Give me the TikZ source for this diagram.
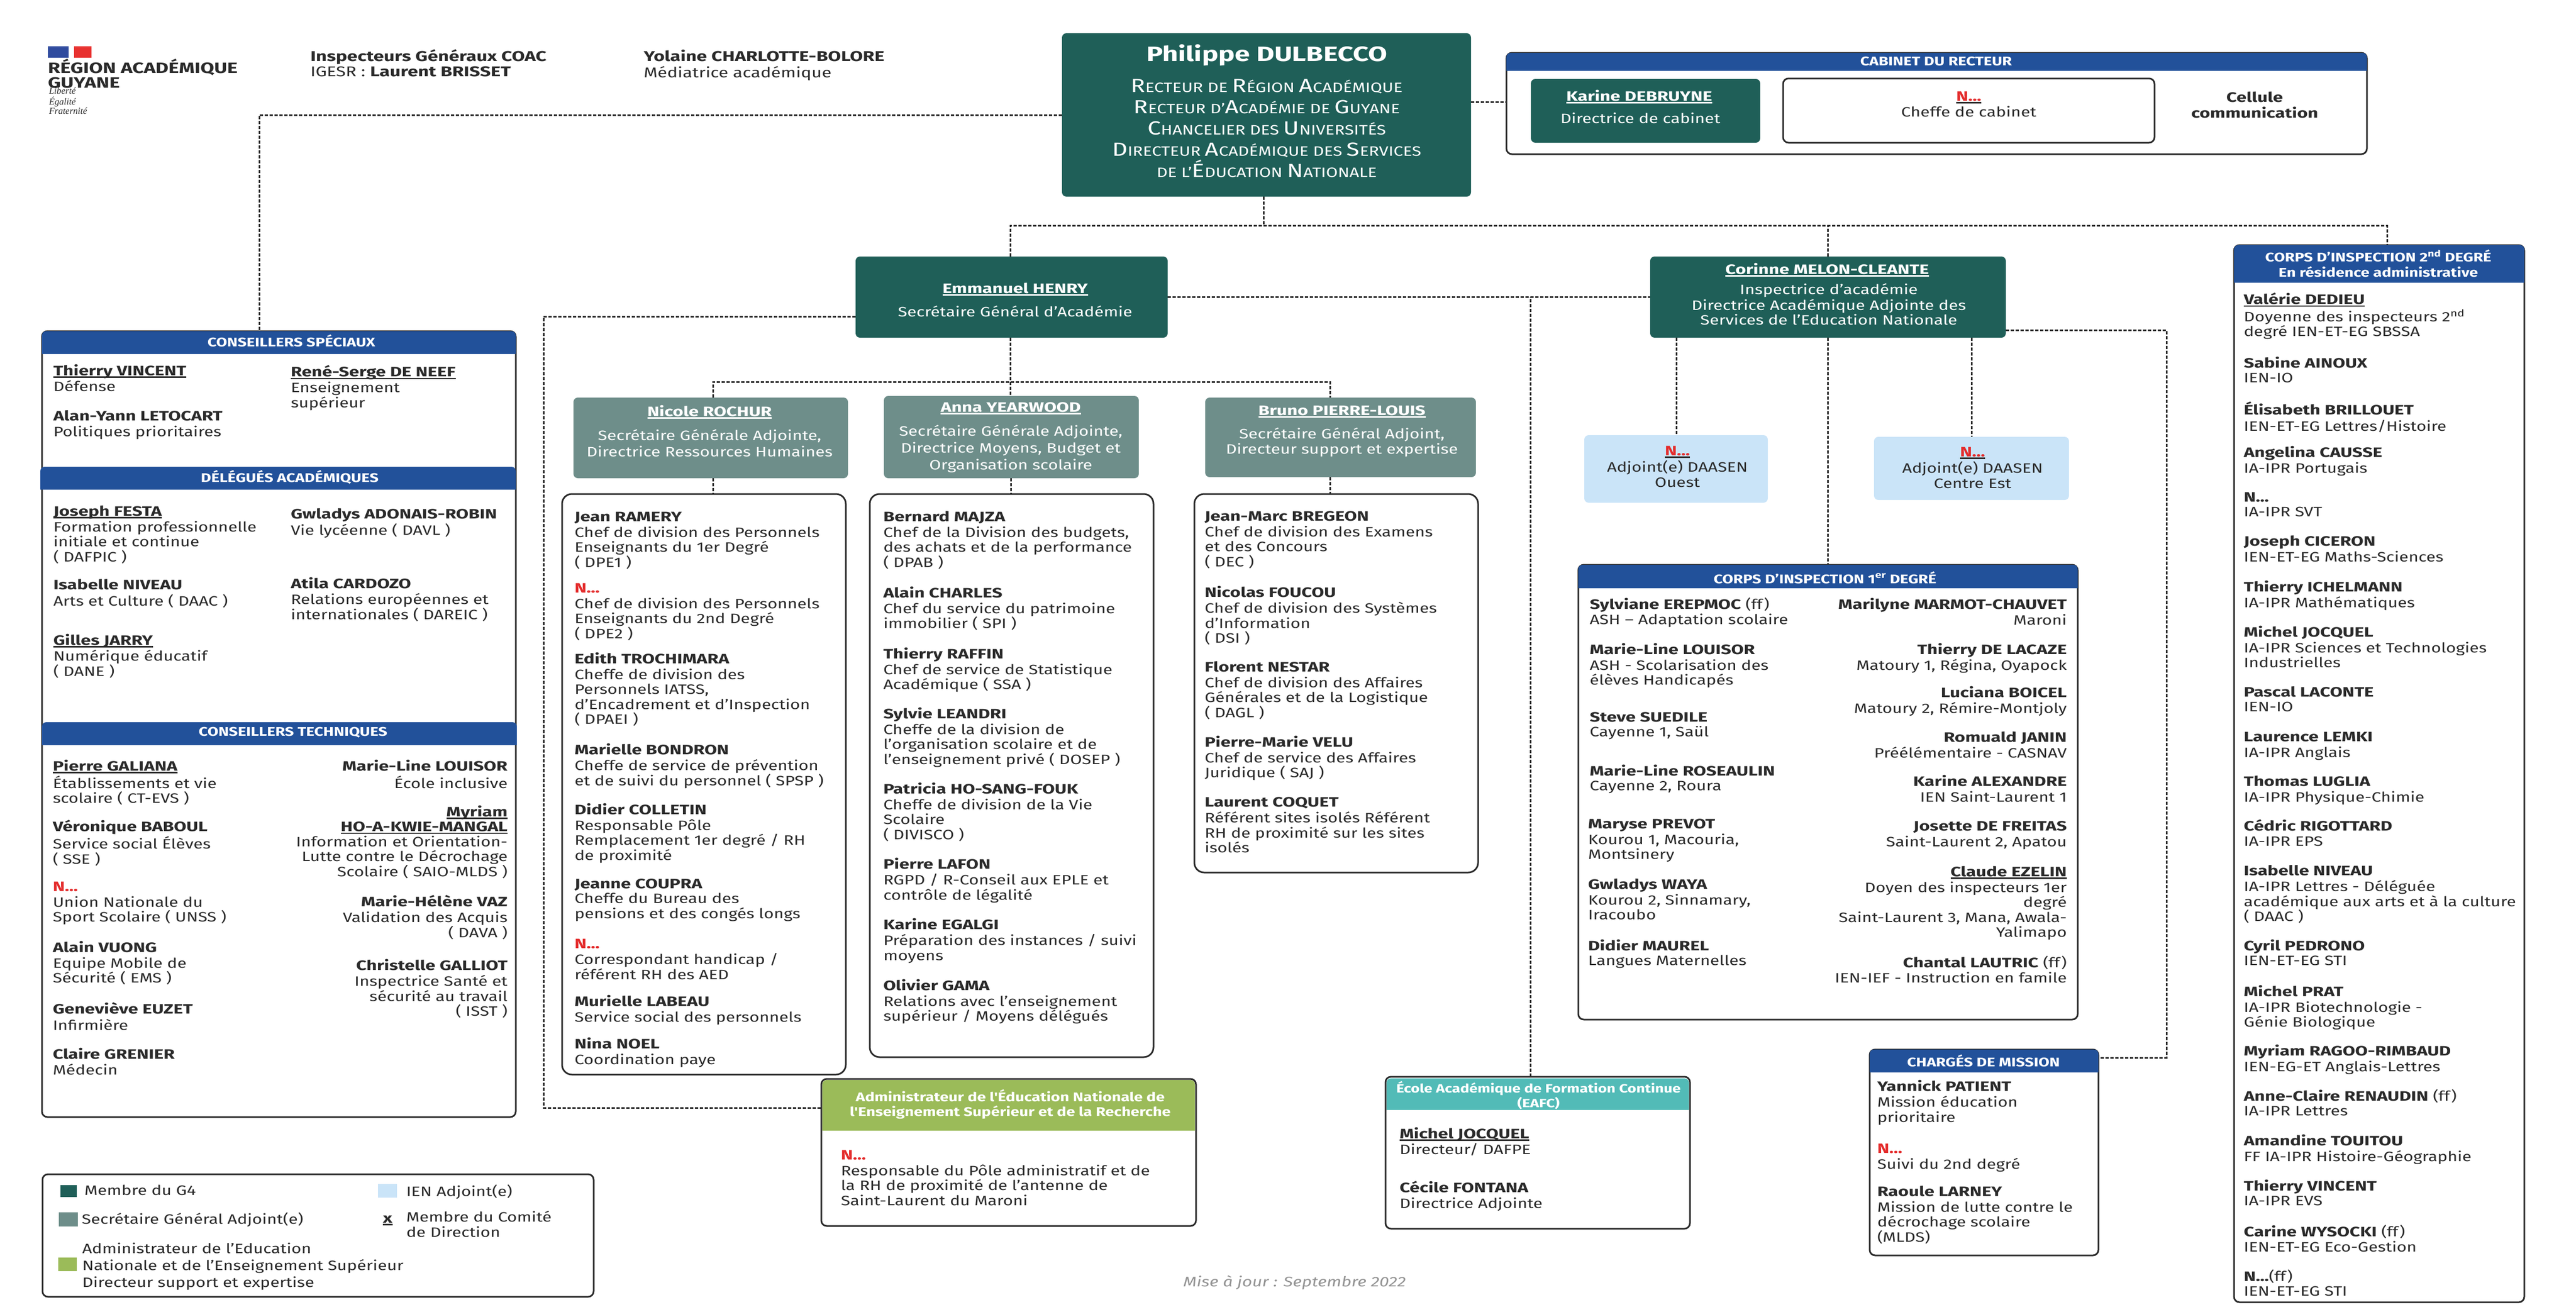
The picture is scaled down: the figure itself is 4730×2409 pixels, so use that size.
\documentclass[tikz,border=0pt]{standalone}
\usepackage{fontspec}
\setmainfont[FakeStretch=1.25,BoldFeatures={FakeStretch=1.33}]{Fira Sans}
\newfontfamily\headfam[FakeStretch=1.26]{Fira Sans}
\newfontfamily\devisefam{Liberation Serif}
\definecolor{ink}{HTML}{2A2A2A}
\definecolor{gfour}{HTML}{1F5F58}
\definecolor{sga}{HTML}{6E8E8A}
\definecolor{hblue}{HTML}{22519A}
\definecolor{agreen}{HTML}{9BBB59}
\definecolor{lblue}{HTML}{CAE4F8}
\definecolor{eteal}{HTML}{52BBB7}
\definecolor{nred}{HTML}{E42B2B}
\definecolor{fblue}{HTML}{2F4B9E}
\definecolor{fred}{HTML}{E8312F}
\tikzset{
  txt/.style={inner sep=0pt,outer sep=0pt,text=ink,font=\fontsize{25}{27.5}\selectfont},
  wtxt/.style={txt,text=white},
  conn/.style={draw=ink,line width=3pt,dash pattern=on 6pt off 3pt},
  fillbox/.style={inner sep=0pt,outer sep=0pt,rounded corners=8pt},
  linebox/.style={inner sep=0pt,outer sep=0pt,draw=ink,line width=3pt,fill=white,rounded corners=10pt},
  listbox/.style={linebox,rounded corners=18pt},
}
\newcommand\ulx[1]{\leavevmode\sbox0{#1}\rlap{\rule[-4.5pt]{\wd0}{2.4pt}}\usebox0}
\newcommand\bn[1]{\textbf{#1}}
\newcommand\ub[1]{\ulx{\textbf{#1}}}
\newcommand\Nn{\textcolor{nred}{\textbf{N...}}}
\newcommand\TL[5][]{\node[txt,anchor=north west,align=left,#1] (#2) at (#3,#4-11) {\strut #5};}
\newcommand\TR[5][]{\node[txt,anchor=north east,align=right,#1] (#2) at (#3,#4-11) {\strut #5};}
\newcommand\TC[5][]{\node[txt,anchor=north,align=center,#1] (#2) at (#3,#4-11) {\strut #5};}
\newcommand\BX[6]{\node[#6,anchor=north west,minimum width=\dimexpr#4pt-#2pt\relax,minimum height=\dimexpr#5pt-#3pt\relax] (#1) at (#2,#3) {};}
\newcommand\HD[5]{\fill[#5] [sharp corners] (#1,#4) [rounded corners=8pt] -- (#1,#2) -- (#3,#2) [sharp corners] -- (#3,#4) -- cycle;}
\newcommand\hf{\headfam\bfseries\fontsize{23}{27.5}\selectfont}
\newcommand\Bg[1]{{\fontsize{35}{38}\selectfont #1}}
\begin{document}
\begin{tikzpicture}[x=1pt,y=-1pt]
\useasboundingbox (0,0) rectangle (4730,2409);
% ---- logo
\fill[fblue] (88,85) rectangle (126,106);
\fill[fred] (136,85) rectangle (168,106);
\TL[font=\bfseries\fontsize{27.5}{22}\selectfont]{logotxt}{88}{119}{RÉGION ACADÉMIQUE\\GUYANE}
\TL[font=\devisefam\itshape\fontsize{17}{14.5}\selectfont]{devise}{90}{172}{Liberté\\Égalité\\Fraternité}
\TL[font=\fontsize{26}{27.5}\selectfont]{igen}{570}{102}{\bn{Inspecteurs Généraux COAC}\\IGESR : \bn{Laurent BRISSET}}
\TL[font=\fontsize{26}{27.5}\selectfont]{media}{1182}{102}{\bn{Yolaine CHARLOTTE-BOLORE}\\Médiatrice académique}
% ---- top boxes
\BX{recteur}{1950}{61}{2701}{361}{fillbox,fill=gfour}
\TC[wtxt,font=\bfseries\fontsize{38}{40}\selectfont]{rname}{2326}{93}{Philippe DULBECCO}
\TC[wtxt,font=\fontsize{25}{39}\selectfont]{rtitle}{2326}{153}{\Bg{R}ECTEUR DE \Bg{R}ÉGION \Bg{A}CADÉMIQUE\\\Bg{R}ECTEUR D’\Bg{A}CADÉMIE DE \Bg{G}UYANE\\\Bg{C}HANCELIER DES \Bg{U}NIVERSITÉS\\\Bg{D}IRECTEUR \Bg{A}CADÉMIQUE DES \Bg{S}ERVICES\\DE L’\Bg{É}DUCATION \Bg{N}ATIONALE}
\BX{cabinet}{2766}{97}{4346}{283}{linebox}
\HD{2766}{97}{4346}{130}{hblue}
\TC[wtxt,font=\hf]{cabhead}{3555}{112}{CABINET DU RECTEUR}
\BX{karine}{2811}{145}{3232}{262}{fillbox,fill=gfour}
\TC[wtxt]{karinet}{3010}{176}{\ub{Karine DEBRUYNE}}
\TC[wtxt]{karinef}{3012}{218}{Directrice de cabinet}
\BX{chefcab}{3274}{144}{3956}{262}{linebox}
\TC{chefcabt}{3615}{177}{\ulx{\Nn}\\Cheffe de cabinet}
\TC{cellule}{4140}{179}{\bn{Cellule}\\\bn{communication}}
% ---- second level
\BX{emmanuel}{1571}{471}{2144}{620}{fillbox,fill=gfour}
\TC[wtxt]{emt}{1864}{530}{\ub{Emmanuel HENRY}}
\TC[wtxt]{emf}{1864}{572}{Secrétaire Général d’Académie}
\BX{corinne}{3030}{471}{3683}{620}{fillbox,fill=gfour}
\TC[wtxt]{cort}{3355}{494}{\ub{Corinne MELON-CLEANTE}}
\TC[wtxt]{corf}{3358}{531}{Inspectrice d’académie\\Directrice Académique Adjointe des\\Services de l'Education Nationale}
\BX{nicole}{1053}{730}{1557}{878}{fillbox,fill=sga}
\TC[wtxt]{nict}{1303}{755}{\ub{Nicole ROCHUR}}
\TC[wtxt,font=\fontsize{25}{30}\selectfont]{nicf}{1303}{798}{Secrétaire Générale Adjointe,\\Directrice Ressources Humaines}
\BX{anna}{1623}{727}{2091}{878}{fillbox,fill=sga}
\TC[wtxt]{annt}{1856}{748}{\ub{Anna YEARWOOD}}
\TC[wtxt,font=\fontsize{25}{31}\selectfont]{annf}{1856}{790}{Secrétaire Générale Adjointe,\\Directrice Moyens, Budget et\\Organisation scolaire}
\BX{bruno}{2213}{730}{2710}{876}{fillbox,fill=sga}
\TC[wtxt]{brut}{2464}{754}{\ub{Bruno PIERRE-LOUIS}}
\TC[wtxt]{bruf}{2464}{796}{Secrétaire Général Adjoint,\\Directeur support et expertise}
% ---- lists
\BX{nlist}{1032}{907}{1553}{1973}{listbox}
\TL{n1}{1055}{949}{\bn{Jean RAMERY}\\Chef de division des Personnels\\Enseignants du 1er Degré\\( DPE1 )}
\TL{n2}{1055}{1080}{\Nn\\Chef de division des Personnels\\Enseignants du 2nd Degré\\( DPE2 )}
\TL{n3}{1055}{1209}{\bn{Edith TROCHIMARA}\\Cheffe de division des\\Personnels IATSS,\\d'Encadrement et d'Inspection\\( DPAEI )}
\TL{n4}{1055}{1376}{\bn{Marielle BONDRON}\\Cheffe de service de prévention\\et de suivi du personnel ( SPSP )}
\TL{n5}{1055}{1486}{\bn{Didier COLLETIN}\\Responsable Pôle\\Remplacement 1er degré / RH\\de proximité}
\TL{n6}{1055}{1623}{\bn{Jeanne COUPRA}\\Cheffe du Bureau des\\pensions et des congés longs}
\TL{n7}{1055}{1733}{\Nn\\Correspondant handicap /\\référent RH des AED}
\TL{n8}{1055}{1838}{\bn{Murielle LABEAU}\\Service social des personnels}
\TL{n9}{1055}{1916}{\bn{Nina NOEL}\\Coordination paye}
\BX{alist}{1597}{907}{2118}{1941}{listbox}
\TL{a1}{1622}{949}{\bn{Bernard MAJZA}\\Chef de la Division des budgets,\\des achats et de la performance\\( DPAB )}
\TL{a2}{1622}{1088}{\bn{Alain CHARLES}\\Chef du service du patrimoine\\immobilier ( SPI )}
\TL{a3}{1622}{1200}{\bn{Thierry RAFFIN}\\Chef de service de Statistique\\Académique ( SSA )}
\TL{a4}{1622}{1310}{\bn{Sylvie LEANDRI}\\Cheffe de la division de\\l'organisation scolaire et de\\l'enseignement privé ( DOSEP )}
\TL{a5}{1622}{1448}{\bn{Patricia HO-SANG-FOUK}\\Cheffe de division de la Vie\\Scolaire\\( DIVISCO )}
\TL{a6}{1622}{1586}{\bn{Pierre LAFON}\\RGPD / R-Conseil aux EPLE et\\contrôle de légalité}
\TL{a7}{1622}{1697}{\bn{Karine EGALGI}\\Préparation des instances / suivi\\moyens}
\TL{a8}{1622}{1809}{\bn{Olivier GAMA}\\Relations avec l'enseignement\\supérieur / Moyens délégués}
\BX{blist}{2193}{907}{2714}{1602}{listbox}
\TL{b1}{2212}{948}{\bn{Jean-Marc BREGEON}\\Chef de division des Examens\\et des Concours\\( DEC )}
\TL{b2}{2212}{1087}{\bn{Nicolas FOUCOU}\\Chef de division des Systèmes\\d'Information\\( DSI )}
\TL{b3}{2212}{1225}{\bn{Florent NESTAR}\\Chef de division des Affaires\\Générales et de la Logistique\\( DAGL )}
\TL{b4}{2212}{1362}{\bn{Pierre-Marie VELU}\\Chef de service des Affaires\\Juridique ( SAJ )}
\TL{b5}{2212}{1473}{\bn{Laurent COQUET}\\Référent sites isolés Référent\\RH de proximité sur les sites\\isolés}
% ---- administrateur
\BX{admin}{1508}{1981}{2196}{2251}{linebox}
\HD{1510}{1983}{2194}{2076}{agreen}
\TC[wtxt,font=\hf]{admh}{1855}{2011}{Administrateur de l'Éducation Nationale de\\l'Enseignement Supérieur et de la Recherche}
\TL{admt}{1544}{2121}{\Nn\\Responsable du Pôle administratif et de\\la RH de proximité de l'antenne de\\Saint-Laurent du Maroni}
% ---- conseillers
\BX{cs}{77}{608}{947}{2051}{linebox}
\HD{77}{608}{947}{650}{hblue}
\TC[wtxt,font=\hf]{csh}{535}{626}{CONSEILLERS SPÉCIAUX}
\TL{cs1}{98}{680}{\ub{Thierry VINCENT}\\Défense}
\TL{cs2}{98}{764}{\bn{Alan-Yann LETOCART}\\Politiques prioritaires}
\TL{cs3}{534}{682}{\ub{René-Serge DE NEEF}\\Enseignement\\supérieur}
\HD{74}{857}{947}{899}{hblue}
\TC[wtxt,font=\hf]{dah}{532}{875}{DÉLÉGUÉS ACADÉMIQUES}
\TL{da1}{98}{939}{\ub{Joseph FESTA}\\Formation professionnelle\\initiale et continue\\( DAFPIC )}
\TL{da2}{98}{1074}{\bn{Isabelle NIVEAU}\\Arts et Culture ( DAAC )}
\TL{da3}{98}{1175}{\ub{Gilles JARRY}\\Numérique éducatif\\( DANE )}
\TL{da4}{534}{944}{\bn{Gwladys ADONAIS-ROBIN}\\Vie lycéenne ( DAVL )}
\TL{da5}{534}{1071}{\bn{Atila CARDOZO}\\Relations européennes et\\internationales ( DAREIC )}
\HD{77}{1326}{949}{1368}{hblue}
\TC[wtxt,font=\hf]{cth}{538}{1343}{CONSEILLERS TECHNIQUES}
\TL{ct1}{97}{1406}{\ub{Pierre GALIANA}\\Établissements et vie\\scolaire ( CT-EVS )}
\TL{ct2}{97}{1517}{\bn{Véronique BABOUL}\\Service social Élèves\\( SSE )}
\TL{ct3}{97}{1628}{\Nn\\Union Nationale du\\Sport Scolaire ( UNSS )}
\TL{ct4}{97}{1739}{\bn{Alain VUONG}\\Equipe Mobile de\\Sécurité ( EMS )}
\TL{ct5}{97}{1852}{\bn{Geneviève EUZET}\\Infirmière}
\TL{ct6}{97}{1935}{\bn{Claire GRENIER}\\Médecin}
\TR{cr1}{932}{1406}{\bn{Marie-Line LOUISOR}\\École inclusive}
\TR{cr2}{932}{1490}{\ub{Myriam}\\\ub{HO-A-KWIE-MANGAL}\\Information et Orientation-\\Lutte contre le Décrochage\\Scolaire ( SAIO-MLDS )}
\TR{cr3}{932}{1655}{\bn{Marie-Hélène VAZ}\\Validation des Acquis\\( DAVA )}
\TR{cr4}{932}{1772}{\bn{Christelle GALLIOT}\\Inspectrice Santé et\\sécurité au travail\\( ISST )}
% ---- legend
\BX{legend}{78}{2156}{1090}{2381}{linebox}
\BX{lg1}{111}{2176}{141}{2198}{inner sep=0pt,outer sep=0pt,fill=gfour}
\BX{lg2}{108}{2226}{143}{2252}{inner sep=0pt,outer sep=0pt,fill=sga}
\BX{lg3}{107}{2309}{141}{2334}{inner sep=0pt,outer sep=0pt,fill=agreen}
\BX{lg4}{694}{2174}{729}{2199}{inner sep=0pt,outer sep=0pt,fill=lblue}
\TL{lt1}{155}{2186}{Membre du G4}
\TL{lt2}{150}{2237}{Secrétaire Général Adjoint(e)}
\TL[font=\fontsize{25}{31}\selectfont]{lt3}{151}{2291}{Administrateur de l’Education\\Nationale et de l’Enseignement Supérieur\\Directeur support et expertise}
\TL{lt4}{746}{2186}{IEN Adjoint(e)}
\TC{lt5}{712}{2237}{\ub{x}}
\TL{lt6}{746}{2234}{Membre du Comité\\de Direction}
% ---- DAASEN
\BX{ouest}{2909}{799}{3246}{923}{fillbox,fill=lblue}
\TC{ouestt}{3080}{828}{\ulx{\Nn}\\Adjoint(e) DAASEN\\Ouest}
\BX{centre}{3441}{802}{3799}{918}{fillbox,fill=lblue}
\TC{centret}{3622}{830}{\ulx{\Nn}\\Adjoint(e) DAASEN\\Centre Est}
% ---- corps 1er
\BX{cunder}{2898}{1037}{3815}{1872}{linebox}
\HD{2898}{1037}{3815}{1080}{hblue}
\TC[wtxt,font=\hf]{cuh}{3351}{1060}{CORPS D’INSPECTION 1\textsuperscript{er} DEGRÉ}
\TL{u1}{2919}{1108}{\bn{Sylviane EREPMOC} (ff)\\ASH – Adaptation scolaire}
\TL{u2}{2919}{1192}{\bn{Marie-Line LOUISOR}\\ASH - Scolarisation des\\élèves Handicapés}
\TL{u3}{2919}{1317}{\bn{Steve SUEDILE}\\Cayenne 1, Saül}
\TL{u4}{2919}{1415}{\bn{Marie-Line ROSEAULIN}\\Cayenne 2, Roura}
\TL{u5}{2916}{1513}{\bn{Maryse PREVOT}\\Kourou 1, Macouria,\\Montsinery}
\TL{u6}{2916}{1624}{\bn{Gwladys WAYA}\\Kourou 2, Sinnamary,\\Iracoubo}
\TL{u7}{2916}{1736}{\bn{Didier MAUREL}\\Langues Maternelles}
\TR{v1}{3795}{1109}{\bn{Marilyne MARMOT-CHAUVET}\\Maroni}
\TR{v2}{3795}{1192}{\bn{Thierry DE LACAZE}\\Matoury 1, Régina, Oyapock}
\TR{v3}{3795}{1271}{\bn{Luciana BOICEL}\\Matoury 2, Rémire-Montjoly}
\TR{v4}{3795}{1354}{\bn{Romuald JANIN}\\Préélémentaire - CASNAV}
\TR{v5}{3795}{1434}{\bn{Karine ALEXANDRE}\\IEN Saint-Laurent 1}
\TR{v6}{3795}{1517}{\bn{Josette DE FREITAS}\\Saint-Laurent 2, Apatou}
\TR{v7}{3795}{1601}{\ub{Claude EZELIN}\\Doyen des inspecteurs 1er\\degré\\Saint-Laurent 3, Mana, Awala-\\Yalimapo}
\TR{v8}{3795}{1766}{\bn{Chantal LAUTRIC} (ff)\\IEN-IEF - Instruction en famile}
% ---- charges
\BX{charges}{3433}{1927}{3853}{2305}{linebox}
\HD{3433}{1927}{3853}{1969}{hblue}
\TC[wtxt,font=\hf]{chh}{3642}{1947}{CHARGÉS DE MISSION}
\TL{ch1}{3447}{1994}{\bn{Yannick PATIENT}\\Mission éducation\\prioritaire}
\TL{ch2}{3447}{2109}{\Nn\\Suivi du 2nd degré}
\TL{ch3}{3447}{2188}{\bn{Raoule LARNEY}\\Mission de lutte contre le\\décrochage scolaire\\(MLDS)}
% ---- EAFC
\BX{eafc}{2544}{1977}{3103}{2256}{linebox}
\HD{2546}{1980}{3101}{2038}{eteal}
\TC[wtxt,font=\headfam\bfseries\fontsize{22}{27}\selectfont]{efh}{2825}{1996}{École Académique de Formation Continue\\(EAFC)}
\TL{ef1}{2570}{2081}{\ub{Michel JOCQUEL}\\Directeur/ DAFPE}
\TL{ef2}{2570}{2180}{\bn{Cécile FONTANA}\\Directrice Adjointe}
% ---- corps 2nd
\BX{cdeux}{4102}{450}{4635}{2391}{linebox}
\HD{4102}{450}{4635}{519}{hblue}
\TC[wtxt,font=\hf]{cdh}{4367}{470}{CORPS D’INSPECTION 2\textsuperscript{nd} DEGRÉ\\En résidence administrative}
\TL{d1}{4120}{549}{\ub{Valérie DEDIEU}\\Doyenne des inspecteurs 2\textsuperscript{nd}\\degré IEN-ET-EG SBSSA}
\TL{d2}{4120}{666}{\bn{Sabine AINOUX}\\IEN-IO}
\TL{d3}{4120}{749}{\bn{Élisabeth BRILLOUET}\\IEN-ET-EG Lettres/Histoire}
\TL{d4}{4120}{830}{\bn{Angelina CAUSSE}\\IA-IPR Portugais}
\TL{d5}{4120}{913}{\bn{N...}\\IA-IPR SVT}
\TL{d6}{4120}{994}{\bn{Joseph CICERON}\\IEN-ET-EG Maths-Sciences}
\TL{d7}{4120}{1077}{\bn{Thierry ICHELMANN}\\IA-IPR Mathématiques}
\TL{d8}{4120}{1160}{\bn{Michel JOCQUEL}\\IA-IPR Sciences et Technologies\\Industrielles}
\TL{d9}{4120}{1271}{\bn{Pascal LACONTE}\\IEN-IO}
\TL{d10}{4120}{1353}{\bn{Laurence LEMKI}\\IA-IPR Anglais}
\TL{d11}{4120}{1435}{\bn{Thomas LUGLIA}\\IA-IPR Physique-Chimie}
\TL{d12}{4120}{1516}{\bn{Cédric RIGOTTARD}\\IA-IPR EPS}
\TL{d13}{4120}{1599}{\bn{Isabelle NIVEAU}\\IA-IPR Lettres - Déléguée\\académique aux arts et à la culture\\( DAAC )}
\TL{d14}{4120}{1736}{\bn{Cyril PEDRONO}\\IEN-ET-EG STI}
\TL{d15}{4120}{1820}{\bn{Michel PRAT}\\IA-IPR Biotechnologie -\\Génie Biologique}
\TL{d16}{4120}{1929}{\bn{Myriam RAGOO-RIMBAUD}\\IEN-EG-ET Anglais-Lettres}
\TL{d17}{4120}{2011}{\bn{Anne-Claire RENAUDIN} (ff)\\IA-IPR Lettres}
\TL{d18}{4120}{2094}{\bn{Amandine TOUITOU}\\FF IA-IPR Histoire-Géographie}
\TL{d19}{4120}{2177}{\bn{Thierry VINCENT}\\IA-IPR EVS}
\TL{d20}{4120}{2260}{\bn{Carine WYSOCKI} (ff)\\IEN-ET-EG Eco-Gestion}
\TL{d21}{4120}{2342}{\bn{N...}(ff)\\IEN-ET-EG STI}
% ---- date
\TC[text=gray!85,font=\itshape\fontsize{25.5}{27}\selectfont]{maj}{2377}{2353}{Mise à jour : Septembre 2022}
% ---- connector anchors
\coordinate (csT) at (476,608);
\coordinate (cabL) at (2766,187);
\coordinate (rd) at (2320,414);
\coordinate (emT) at (1855,471);
\coordinate (c2T) at (4383,450);
\coordinate (efT) at (2810,1977);
\coordinate (eml) at (1571,581);
\coordinate (elb) at (998,2034);
\coordinate (admL) at (1508,2034);
\coordinate (hub) at (1855,701);
\coordinate (niT) at (1309,730);
\coordinate (anT) at (1855,727);
\coordinate (brT) at (2442,730);
\coordinate (nlT) at (1309,907);
\coordinate (alT) at (1856,907);
\coordinate (blT) at (2442,907);
\coordinate (oT) at (3078,799);
\coordinate (ceT) at (3620,802);
\coordinate (cuT) at (3356,1037);
\coordinate (corR) at (3683,606);
\coordinate (cor2) at (3978,1942);
\coordinate (chR) at (3853,1942);
% ---- connectors
\draw[conn] (recteur.west) -| (csT);
\draw[conn] (recteur.east |- cabL) -- (cabL);
\draw[conn] (recteur.south -| rd) -- (rd);
\draw[conn] (emT) |- (rd) -| (c2T);
\draw[conn] (corinne.north) -- (corinne.north |- rd);
\draw[conn] (emmanuel.east) -- (corinne.west);
\draw[conn] (efT) -- (efT |- emmanuel.east);
\draw[conn] (eml) -| (elb) -- (admL);
\draw[conn] (emmanuel.south -| hub) -- (hub);
\draw[conn] (niT) |- (hub) -| (brT);
\draw[conn] (hub) -- (anT);
\draw[conn] (nlT |- nicole.south) -- (nlT);
\draw[conn] (alT |- anna.south) -- (alT);
\draw[conn] (blT |- bruno.south) -- (blT);
\draw[conn] (oT |- corinne.south) -- (oT);
\draw[conn] (ceT |- corinne.south) -- (ceT);
\draw[conn] (cuT |- corinne.south) -- (cuT);
\draw[conn] (corR) -| (cor2) -- (chR);
\end{tikzpicture}
\end{document}
